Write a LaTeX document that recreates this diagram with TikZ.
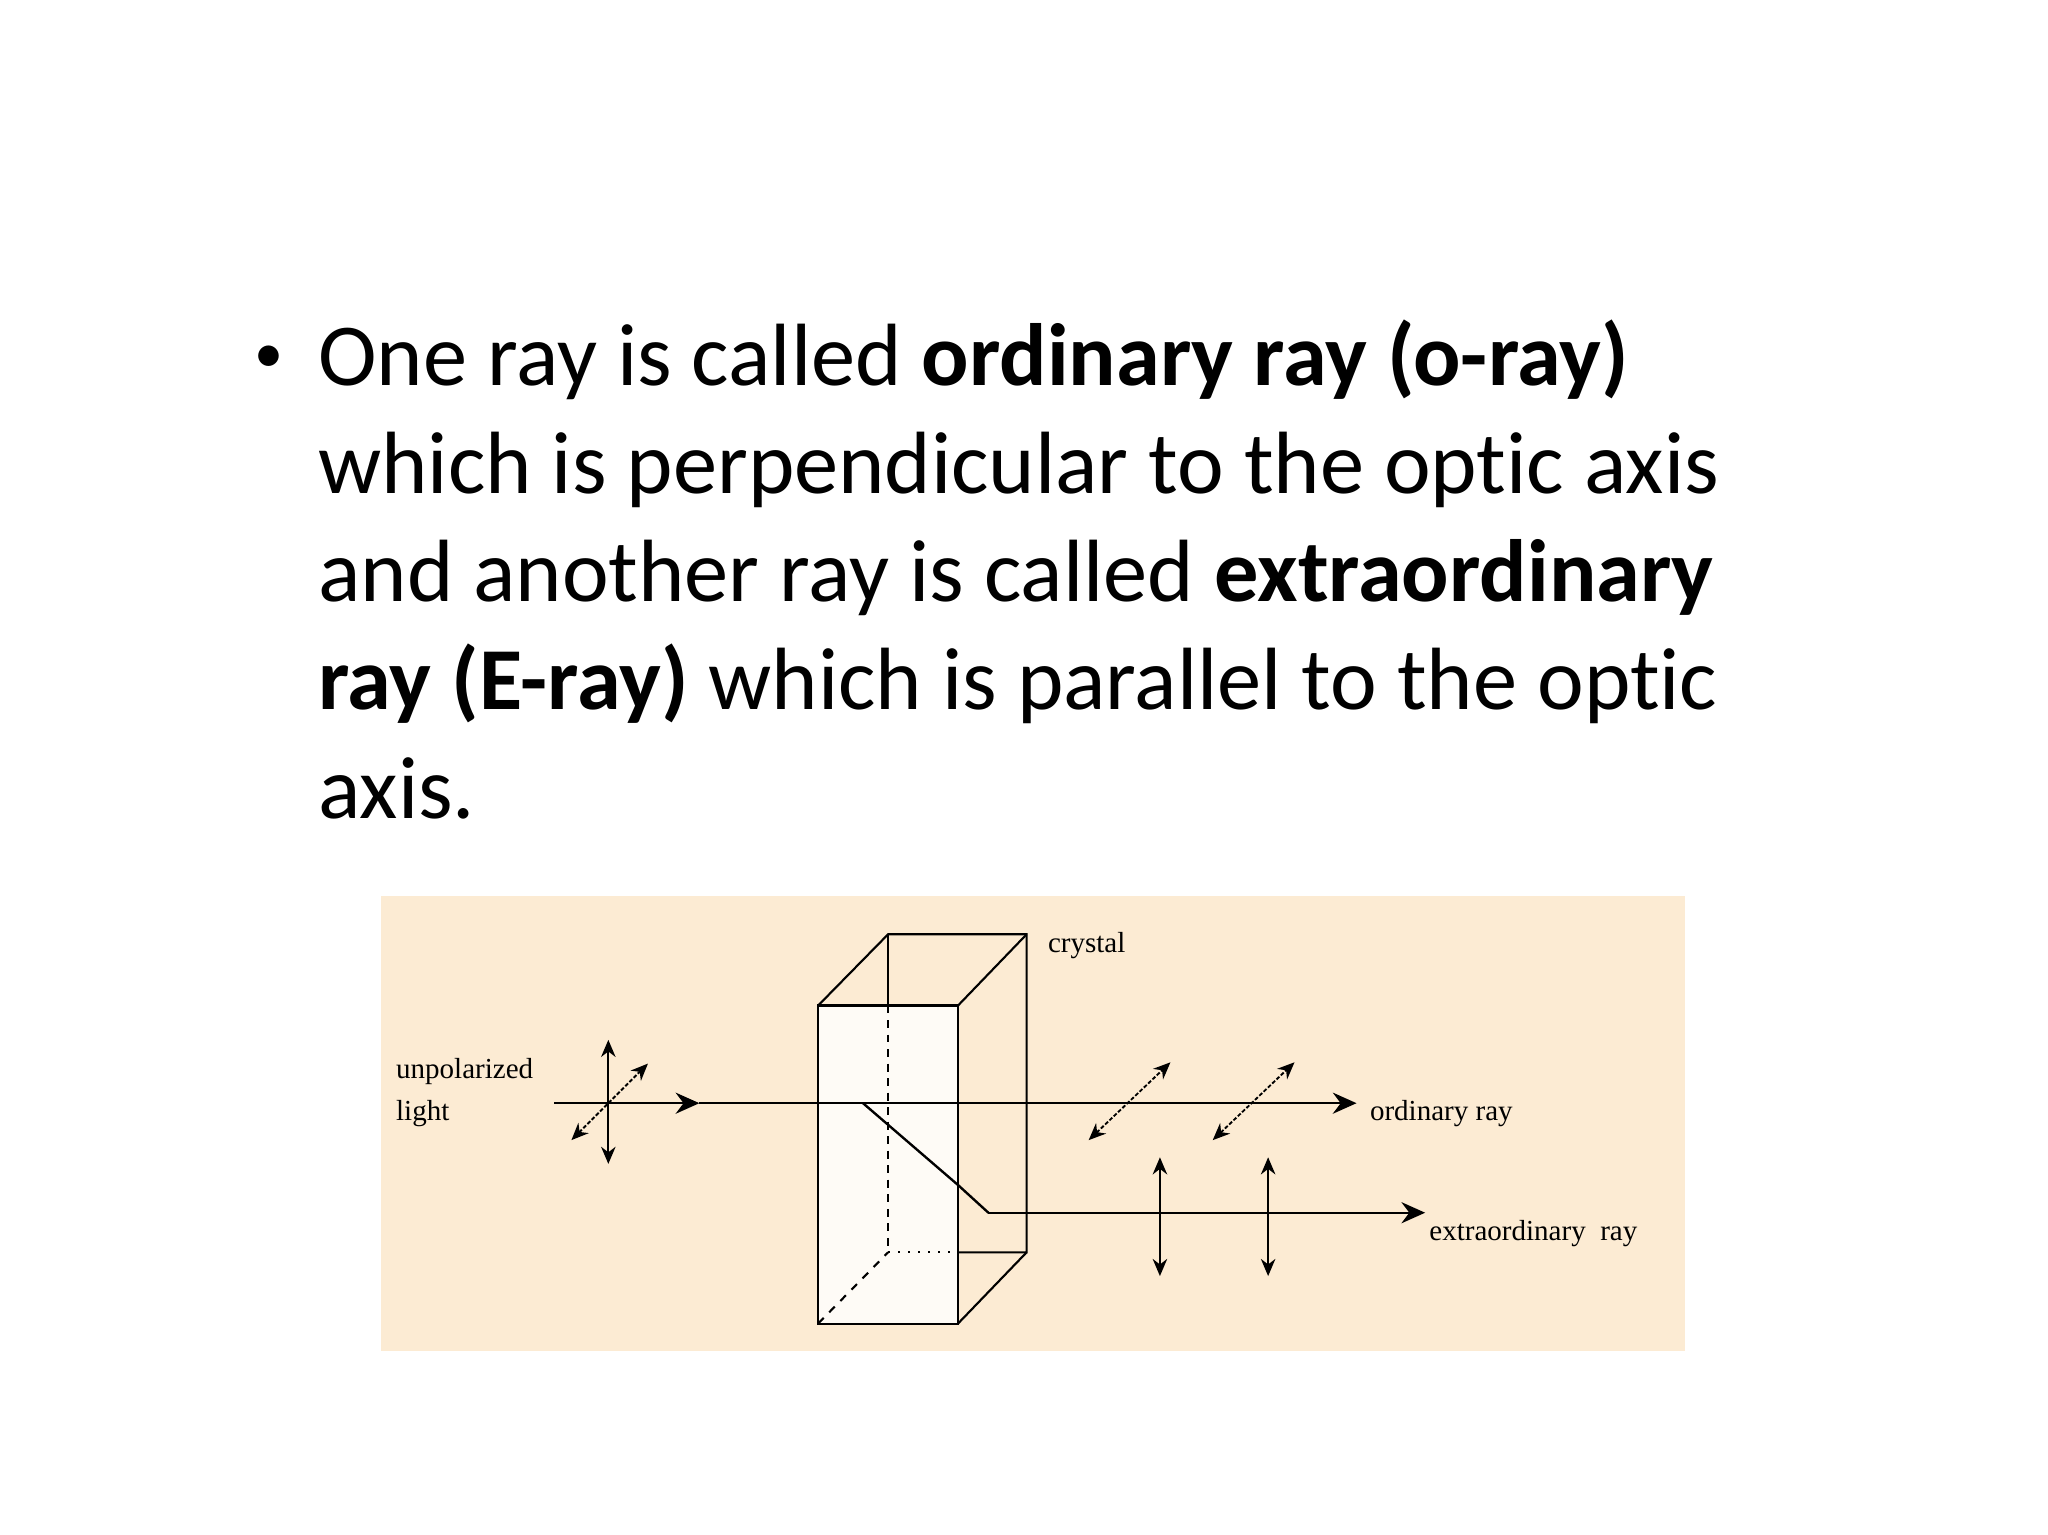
\documentclass[tikz,border=0pt]{standalone}
\usepackage{fontspec}
\setmainfont[Ligatures={NoCommon}]{Carlito}
\newfontfamily\serifl{Liberation Serif}
\usetikzlibrary{arrows.meta}
\definecolor{beige}{HTML}{FCEBD3}
\definecolor{face}{HTML}{FEFBF6}
\tikzset{
 body/.style={anchor=base west,inner sep=0pt,font=\fontsize{67}{70}\selectfont},
 lab/.style={anchor=base west,inner sep=0pt,font=\serifl\fontsize{22}{24}\selectfont},
 edge/.style={line width=1.6pt},
 ray/.style={line width=1.8pt},
 bigtip/.style={-{Stealth[length=18pt,width=16pt,inset=6pt]}},
 pol/.style={line width=1.4pt,{Stealth[length=13pt,width=11pt]}-{Stealth[length=13pt,width=11pt]}},
 dpol/.style={pol,dash pattern=on 3pt off 1.5pt},
}
\begin{document}
\begin{tikzpicture}[x=1pt,y=-1pt]
\fill[white] (0,0) rectangle (1552,1163);
\useasboundingbox (0,0) rectangle (1552,1163);
% text
\node[anchor=center,inner sep=0pt,font=\fontsize{44}{44}\selectfont] (bul) at (204,272) {•};
\node[body] (l1) at (241,292) {One ray is called \textbf{ordinary ray (o-ray)}};
\node[body] (l2) at (241,374) {which is perpendicular to the optic axis};
\node[body] (l3) at (241,456) {and another ray is called \textbf{extraordinary}};
\node[body] (l4) at (241,538) {\textbf{ray (E-ray)} which is parallel to the optic};
\node[body] (l5) at (241,620) {axis.};
% diagram background
\fill[beige] (289,679) rectangle (1277,1024);
% crystal coordinates
\coordinate (fa) at (620,762); \coordinate (fb) at (726,762);
\coordinate (fc) at (726,1003); \coordinate (fd) at (620,1003);
\coordinate (ba) at (673,708); \coordinate (bb) at (778,708);
\coordinate (bc) at (778,949); \coordinate (bd) at (673,949);
\fill[face] (fa) rectangle (fc);
\draw[edge] (fa) -- (ba) -- (bb) -- (bc) -- (726,949);
\draw[edge] (fb) -- (bb);
\draw[edge] (fc) -- (bc);
\draw[edge] (ba) -- (673,762);
\draw[edge,dash pattern=on 6pt off 5pt] (673,762) -- (bd);
\draw[edge,dash pattern=on 1.6pt off 6pt] (bd) -- (726,949);
\draw[edge,dash pattern=on 6pt off 6pt] (fd) -- (bd);
\draw[edge] (fa) rectangle (fc);
% rays
\coordinate (src) at (420,836);
\coordinate (mid) at (530,836);
\coordinate (otip) at (1028,836);
\coordinate (split) at (654,836);
\coordinate (k1) at (726,898);
\coordinate (k2) at (749,919);
\coordinate (etip) at (1080,919);
\draw[ray,bigtip] (src) -- (mid);
\draw[ray,bigtip] (mid) -- (otip);
\draw[ray] (split) -- (k1) -- (k2);
\draw[ray,bigtip] (k2) -- (etip);
% polarization symbols
\coordinate (u1) at (461,788); \coordinate (u2) at (461,882);
\coordinate (u3) at (433,864); \coordinate (u4) at (491,806);
\draw[pol] (u1) -- (u2);
\draw[dpol] (u3) -- (u4);
\coordinate (o1) at (825,864); \coordinate (o2) at (887,805);
\coordinate (o3) at (919,864); \coordinate (o4) at (981,805);
\draw[dpol] (o1) -- (o2);
\draw[dpol] (o3) -- (o4);
\coordinate (e1) at (879,877); \coordinate (e2) at (879,967);
\coordinate (e3) at (961,877); \coordinate (e4) at (961,967);
\draw[pol] (e1) -- (e2);
\draw[pol] (e3) -- (e4);
% labels
\node[lab] (tcr) at (794,722) {crystal};
\node[lab] (tun) at (300,817) {unpolarized};
\node[lab] (tli) at (300,849) {light};
\node[lab] (tor) at (1038,849) {ordinary ray};
\node[lab] (tex) at (1083,940) {extraordinary\ \ ray};
\end{tikzpicture}
\end{document}
